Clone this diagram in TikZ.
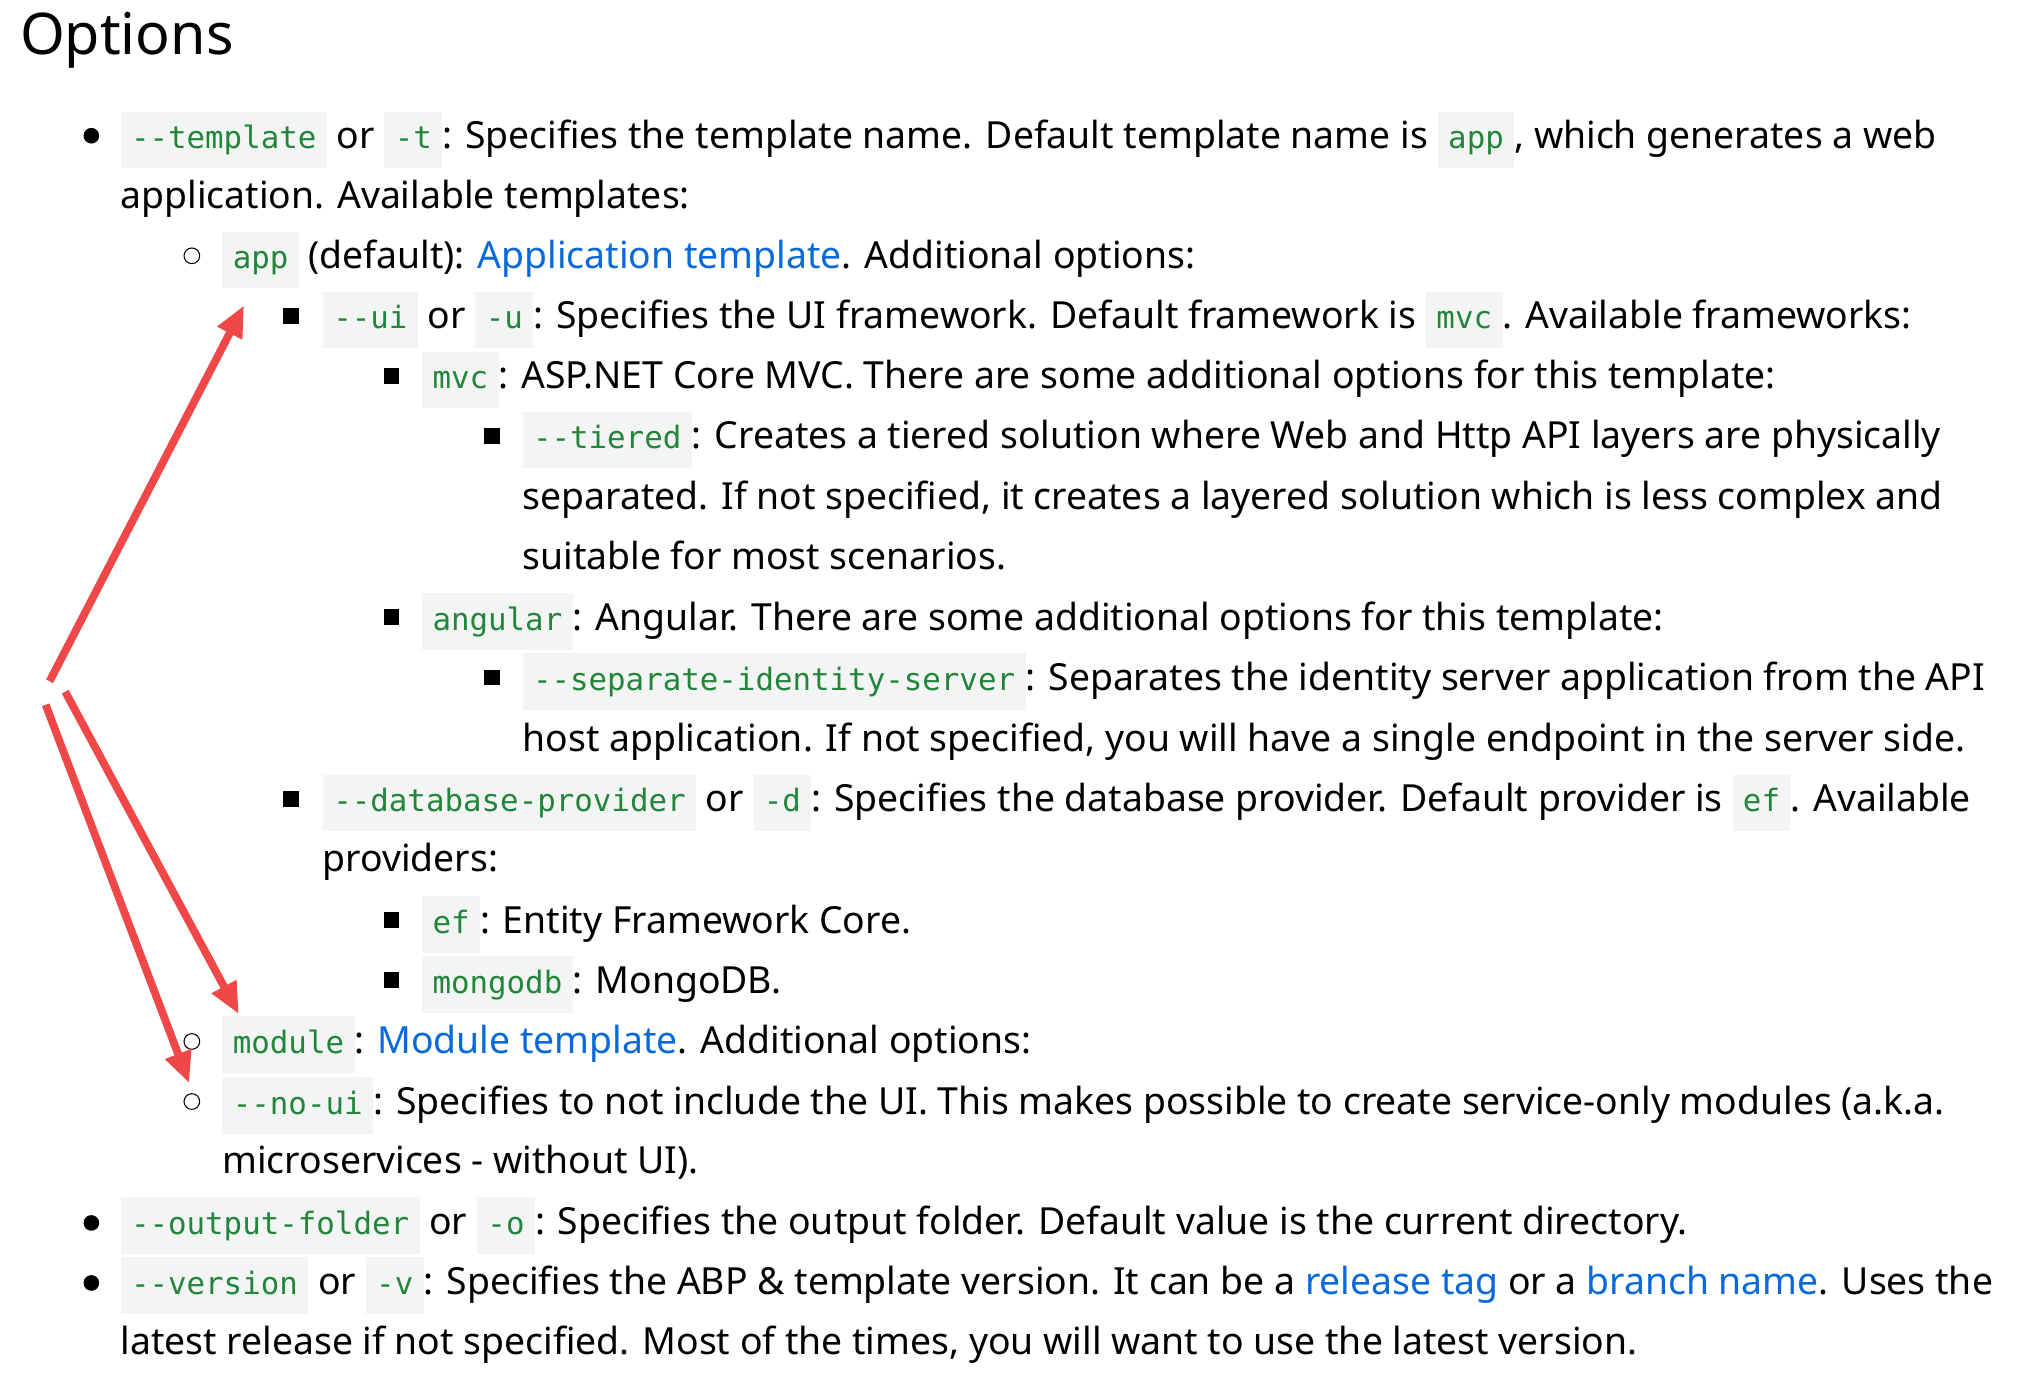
\documentclass[tikz,border=0pt]{standalone}
\usepackage{fontspec}
\usepackage{xcolor}
\setmainfont{Noto Sans}
\newfontfamily\codefont{DejaVu Sans Mono}
\usetikzlibrary{arrows.meta}
\definecolor{codebg}{HTML}{F3F4F4}
\definecolor{codegreen}{HTML}{22863A}
\definecolor{linkblue}{HTML}{0969DA}
\definecolor{arrowred}{HTML}{F04848}
\newcommand\code[1]{{\setlength\fboxsep{4pt}\colorbox{codebg}{\vphantom{Ag}\codefont\fontsize{11.8pt}{12pt}\selectfont\color{codegreen}#1}}}
\newcommand\weblink[1]{\textcolor{linkblue}{#1}}
\tikzset{
  line/.style={anchor=base west, inner sep=0pt, font=\fontsize{14.3pt}{16pt}\selectfont},
  dot/.style={circle, fill=black, inner sep=0pt, minimum size=6pt},
  ring/.style={circle, draw=black, line width=0.4pt, inner sep=0pt, minimum size=6pt},
  sq/.style={fill=black, inner sep=0pt, minimum size=6pt},
  pointer/.style={draw=arrowred, line width=3pt, -{Triangle[length=12pt,width=10pt]}}
}
\begin{document}
\begin{tikzpicture}[x=0.5pt,y=-0.5pt]
\useasboundingbox (0,0) rectangle (1560,1060);

% Title
\node[anchor=base west, inner sep=0pt, font=\fontsize{22pt}{26pt}\selectfont] (title) at (15,42) {Options};

% Bullet markers
\node[dot] (b1) at (70,104) {};
\node[ring] (c1) at (147,196) {};
\node[sq] (s1) at (223,242) {};
\node[sq] (s2) at (300,288) {};
\node[sq] (s3) at (377,334) {};
\node[sq] (s4) at (300,473) {};
\node[sq] (s5) at (377,519) {};
\node[sq] (s6) at (223,612) {};
\node[sq] (s7) at (300,705) {};
\node[sq] (s8) at (300,751) {};
\node[ring] (c2) at (147,798) {};
\node[ring] (c3) at (147,844) {};
\node[dot] (b2) at (70,937) {};
\node[dot] (b3) at (70,983) {};

% Text lines
\node[line] (l1) at (92,114) {\code{-{}-template} or \code{-t}: Specifies the template name. Default template name is \code{app}, which generates a web};
\node[line] (l2) at (92,160) {application. Available templates:};
\node[line] (l3) at (170,206) {\code{app} (default): \weblink{Application template}. Additional options:};
\node[line] (l4) at (247,252) {\code{-{}-ui} or \code{-u}: Specifies the UI framework. Default framework is \code{mvc}. Available frameworks:};
\node[line] (l5) at (323,298) {\code{mvc}: ASP.NET Core MVC. There are some additional options for this template:};
\node[line] (l6) at (400,344) {\code{-{}-tiered}: Creates a tiered solution where Web and Http API layers are physically};
\node[line] (l7) at (400,390) {separated. If not specified, it creates a layered solution which is less complex and};
\node[line] (l8) at (400,436) {suitable for most scenarios.};
\node[line] (l9) at (323,483) {\code{angular}: Angular. There are some additional options for this template:};
\node[line] (l10) at (400,529) {\code{-{}-separate-identity-server}: Separates the identity server application from the API};
\node[line] (l11) at (400,576) {host application. If not specified, you will have a single endpoint in the server side.};
\node[line] (l12) at (247,622) {\code{-{}-database-provider} or \code{-d}: Specifies the database provider. Default provider is \code{ef}. Available};
\node[line] (l13) at (247,668) {providers:};
\node[line] (l14) at (323,715) {\code{ef}: Entity Framework Core.};
\node[line] (l15) at (323,761) {\code{mongodb}: MongoDB.};
\node[line] (l16) at (170,807) {\code{module}: \weblink{Module template}. Additional options:};
\node[line] (l17) at (170,854) {\code{-{}-no-ui}: Specifies to not include the UI. This makes possible to create service-only modules (a.k.a.};
\node[line] (l18) at (170,899) {microservices - without UI).};
\node[line] (l19) at (92,946) {\code{-{}-output-folder} or \code{-o}: Specifies the output folder. Default value is the current directory.};
\node[line] (l20) at (92,992) {\code{-{}-version} or \code{-v}: Specifies the ABP \& template version. It can be a \weblink{release tag} or a \weblink{branch name}. Uses the};
\node[line] (l21) at (92,1038) {latest release if not specified. Most of the times, you will want to use the latest version.};

% Red pointers
\coordinate (p1) at (38,522);
\coordinate (p2) at (50,530);
\coordinate (p3) at (35,540);
\coordinate (t1) at (187,234);
\coordinate (t2) at (183,777);
\coordinate (t3) at (145,830);
\draw[pointer] (p1) -- (t1);
\draw[pointer] (p2) -- (t2);
\draw[pointer] (p3) -- (t3);
\end{tikzpicture}
\end{document}
